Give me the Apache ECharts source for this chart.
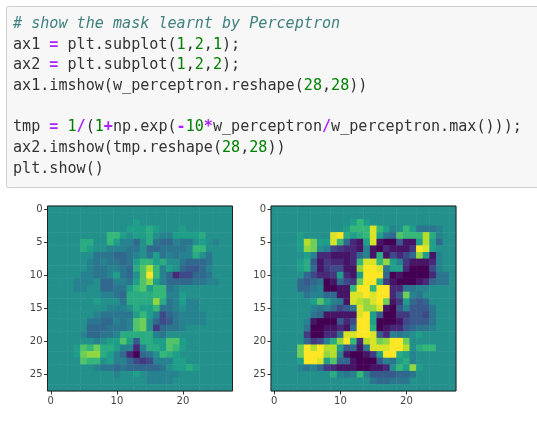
<!DOCTYPE html>
<html><head><meta charset="utf-8">
<style>html,body{margin:0;padding:0;background:#fff}#c{width:537px;height:426px}</style>
<script src="https://cdn.jsdelivr.net/npm/echarts@6/dist/echarts.min.js"></script>
</head><body><div id="c"></div>
<script>
const xTicks=[0,10,20];
const yTicks=[0,5,10,15,20,25];
const codeLines=[
"{c|# show the mask learnt by Perceptron}",
"ax1 {o|=} plt.subplot({n|1},{n|2},{n|1});",
"ax2 {o|=} plt.subplot({n|1},{n|2},{n|2});",
"ax1.imshow(w_perceptron.reshape({n|28},{n|28}))",
"",
"tmp {o|=} {n|1}{o|/}({n|1}{o|+}np.exp({o|-}{n|10}{o|*}w_perceptron{o|/}w_perceptron.max()));",
"ax2.imshow(tmp.reshape({n|28},{n|28}))",
"plt.show()"];
const weights=[
[0,0,0,0,0,0,0,0,0,0,0,0,0,0,0,0,0,0,0,0,0,0,0,0,0,0,0,0],
[0,0,0,0,0,0,0,0,0,0,0,0,0,0,0,0,0,0,0,0,0,0,0,0,0,0,0,0],
[0,0,0,0,0,0,0,0,0,0,0,0,0,1,0,0,0,0,0,0,0,0,0,0,0,0,0,0],
[0,0,0,0,0,0,0,0,0,0,0,0,1,1,1,2,1,0,0,0,1,0,0,0,0,0,0,0],
[0,0,0,0,0,0,0,0,0,3,3,1,0,1,1,2,0,-1,-1,1,1,1,1,2,0,0,0,0],
[0,0,0,0,0,2,2,0,0,3,1,-1,-1,-3,0,2,-2,-3,-3,-1,-2,-2,0,1,0,-1,0,0],
[0,0,0,0,0,2,1,0,0,-1,-1,-1,-2,-2,0,-3,-3,-2,-2,-2,-2,-1,3,3,0,0,0,0],
[0,0,0,0,0,0,0,-2,-2,-2,-3,-3,-2,-1,0,-2,1,-2,-1,-2,-1,-1,2,0,-2,0,0,0],
[0,0,0,0,0,0,-1,-2,-1,-2,-2,-3,-2,1,3,3,1,2,0,0,-2,-3,-3,-3,-2,0,0,0],
[0,0,0,0,0,0,-1,-2,-2,-1,-1,-2,-3,2,4,7,3,-1,1,0,-3,-4,-4,-3,-1,0,0,0],
[0,0,0,0,0,-1,-1,-2,-2,-1,1,-2,-3,0,4,9,3,-1,-3,-7,-5,-5,-3,-3,-2,0,0,0],
[0,0,0,0,-1,-1,-1,0,-3,-3,-1,-1,-2,1,4,6,1,-1,-3,-3,-3,-3,-2,-2,-1,-1,0,0],
[0,0,0,0,-1,-1,0,0,-3,-3,-2,-2,1,3,4,1,3,3,-2,-1,0,0,0,0,0,0,0,0],
[0,0,0,0,0,0,0,0,-1,-1,-2,-3,2,2,2,2,3,3,-1,-1,1,0,0,0,0,0,0,0],
[0,0,0,0,0,0,0,1,0,0,0,-2,2,2,2,2,6,2,-2,-1,1,-1,-1,0,0,0,0,0],
[0,0,0,0,0,0,0,0,0,-1,-1,-1,0,2,1,1,3,-2,-2,-1,0,-1,-1,0,0,0,0,0],
[0,0,0,0,0,0,0,-1,-2,-2,-2,-2,-2,1,3,1,-1,-5,-3,-2,-1,-1,-1,-1,0,0,0,0],
[0,0,0,0,0,0,-2,-2,-3,-3,-1,-2,-1,4,5,0,-3,-5,-4,-2,-1,-1,-1,-1,0,0,0,0],
[0,0,0,0,0,0,-3,-3,-3,-2,-2,-2,-1,4,5,0,-6,-3,-2,-2,-1,0,0,0,0,0,0,0],
[0,0,0,0,0,-1,-3,-3,-2,-2,-1,2,2,2,2,2,-1,-2,0,0,0,0,0,0,0,0,0,0],
[0,0,0,0,0,0,0,-1,0,1,1,4,1,-4,2,2,1,1,4,4,1,0,0,0,0,0,0,0],
[0,0,0,0,1,4,3,5,2,2,1,-1,-1,-7,-1,2,2,1,4,3,1,0,0,0,0,0,0,0],
[0,0,0,0,1,5,6,6,2,1,-1,-3,-7,-9,-3,-2,0,3,2,1,0,0,0,0,0,0,0,0],
[0,0,0,0,0,4,3,3,0,1,-1,-1,-3,-5,-6,-5,-1,-1,-1,1,1,0,0,0,0,0,0,0],
[0,0,0,0,0,0,0,-1,-2,-2,-3,-2,-3,-3,-3,-3,-3,-2,0,1,1,2,1,0,0,0,0,0],
[0,0,0,0,0,0,0,0,0,0,-1,0,0,1,0,-1,-1,-1,-1,-1,0,0,0,0,0,0,0,0],
[0,0,0,0,0,0,0,0,0,0,0,0,0,0,0,-1,-1,-1,-1,0,0,0,0,0,0,0,0,0],
[0,0,0,0,0,0,0,0,0,0,0,0,0,0,0,0,0,0,0,0,0,0,0,0,0,0,0,0]];
const squashed=[
[0,0,0,0,0,0,0,0,0,0,0,0,0,0,0,0,0,0,0,0,0,0,0,0,0,0,0,0],
[0,0,0,0,0,0,0,0,0,0,0,0,0,0,0,0,0,0,0,0,0,0,0,0,0,0,0,0],
[0,0,0,0,0,0,0,0,0,0,0,0,1,3,1,0,0,0,0,0,0,0,0,0,0,0,0,0],
[0,0,0,0,0,0,0,0,0,0,0,1,3,3,3,8,3,1,-1,0,3,1,-2,-2,-2,-1,0,0],
[0,0,0,0,1,0,0,0,0,8,9,2,1,2,3,8,1,-2,-3,4,3,3,3,7,2,-1,0,0],
[0,0,0,0,1,7,5,1,1,8,3,-3,-7,-8,1,8,-8,-9,-9,-4,-8,-8,1,7,1,-3,0,0],
[0,0,0,0,1,6,5,0,-1,-5,-6,-7,-7,-8,-1,-8,-9,-7,-8,-8,-8,-6,9,8,1,0,0,0],
[0,0,0,0,0,1,-1,-7,-7,-8,-8,-8,-7,-3,-1,-8,2,-8,-5,-7,-5,-3,6,1,-8,-1,0,0],
[0,0,0,0,1,2,-4,-8,-6,-7,-7,-8,-7,3,8,8,3,6,1,-1,-6,-8,-8,-8,-7,-1,0,0],
[0,0,0,0,1,2,-3,-8,-6,-5,-5,-8,-8,6,9,9,8,-2,1,1,-7,-9,-9,-9,-5,-1,0,0],
[0,0,0,0,0,-3,-5,-7,-7,-6,1,-7,-8,1,9,9,9,-3,-9,-8,-9,-9,-9,-9,-7,-2,-2,0],
[0,0,0,0,-3,-4,-3,-2,-9,-8,-3,-5,-6,5,9,9,2,-6,-8,-9,-9,-9,-8,-7,-3,-2,-2,0],
[0,0,0,0,-3,-3,-2,-1,-9,-9,-8,-8,3,9,9,3,9,9,-7,-7,-2,-2,-1,-1,0,0,0,0],
[0,0,0,0,0,-2,-1,-1,-3,-3,-8,-8,8,8,9,8,9,9,-7,-4,5,-1,-2,0,0,0,0,0],
[0,0,0,0,0,0,1,4,1,-1,-2,-8,8,7,6,8,9,5,-8,-6,1,-3,-4,-3,0,0,0,0],
[0,0,0,0,0,0,-1,-2,-1,-3,-5,-4,-2,8,6,6,8,-8,-9,-4,-1,-4,-4,-4,-2,0,0,0],
[0,0,0,0,0,0,-2,-3,-8,-8,-8,-8,-8,8,9,1,-4,-9,-9,-6,-6,-4,-4,-5,-2,0,0,0],
[0,0,0,0,0,-1,-8,-9,-9,-9,-4,-7,-5,9,9,1,-9,-9,-9,-8,-5,-4,-4,-4,-2,0,0,0],
[0,0,0,0,0,-2,-9,-9,-8,-8,-7,-8,-3,9,9,2,-9,-8,-7,-7,-4,-3,-2,-2,-1,0,0,0],
[0,0,0,0,0,-6,-9,-9,-7,-7,-3,8,8,9,9,8,-4,-7,-1,-2,-1,0,1,0,0,0,0,0],
[0,0,0,0,0,-3,-6,-5,-1,2,6,9,3,-7,7,8,5,6,9,9,5,0,0,0,0,0,0,0],
[0,0,0,0,5,9,7,9,7,7,1,-4,-3,-8,-2,8,8,8,9,9,7,0,2,3,3,0,0,0],
[0,0,0,0,5,9,9,9,6,7,-1,-8,-9,-9,-8,-6,1,9,9,2,1,-1,0,0,0,0,0,0],
[0,0,0,0,1,9,9,8,1,4,-3,-3,-8,-9,-9,-9,-4,-1,-2,1,2,-1,0,0,0,0,0,0],
[0,0,0,0,-1,-2,-1,-3,-6,-7,-8,-8,-8,-9,-9,-8,-8,-7,0,3,1,6,1,0,0,0,0,0],
[0,0,0,0,0,0,0,0,0,2,-1,-2,-1,3,-1,-4,-4,-4,-4,-3,-3,-2,0,0,0,0,0,0],
[0,0,0,0,0,0,0,0,0,0,0,0,0,0,0,-2,-3,-3,-2,-2,-2,0,0,0,0,0,0,0],
[0,0,0,0,0,0,0,0,0,0,0,0,0,0,0,0,0,0,0,0,0,0,0,0,0,0,0,0]];
const viridis=['#440154','#482878','#3e4989','#31688e','#26828e','#1f9e89','#35b779','#6ece58','#b5de2b','#fde725'];

[weights,squashed].forEach(g=>g.forEach((r,i)=>{if(r.length!==28||g.length!==28)throw new Error('bad row '+i)}));
const cells=[...Array(28).keys()].map(String);
const flat=g=>g.flatMap((r,y)=>r.map((v,x)=>[x,y,v]));
const axisFont={color:'#444',fontSize:10,fontFamily:'DejaVu Sans'};
const xAx=i=>({type:'category',gridIndex:i,data:cells,position:'bottom',
  axisLine:{show:false},splitLine:{show:false},
  axisTick:{show:true,length:3.5,alignWithLabel:true,interval:(n)=>xTicks.includes(n),lineStyle:{color:'#333',width:1}},
  axisLabel:{...axisFont,margin:5,interval:(n)=>xTicks.includes(n)}});
const yAx=i=>({type:'category',gridIndex:i,data:cells,inverse:true,
  axisLine:{show:false},splitLine:{show:false},
  axisTick:{show:true,length:3.5,alignWithLabel:true,interval:(n)=>yTicks.includes(n),lineStyle:{color:'#333',width:1}},
  axisLabel:{...axisFont,margin:5,interval:(n)=>yTicks.includes(n)}});
const gridOf=(left)=>({left,top:206,width:185,height:185,show:true,z:5,backgroundColor:'transparent',borderColor:'#222',borderWidth:1,containLabel:false});
const code=codeLines.map((t,i)=>({type:'text',silent:true,z:10,style:{
  text:t,x:13,y:24+i*20.7,verticalAlign:'middle',fontFamily:'DejaVu Sans Mono',fontSize:15.1,fill:'#333',
  rich:{c:{fill:'#408080',fontStyle:'italic',fontFamily:'DejaVu Sans Mono',fontSize:15.1},
        o:{fill:'#aa22ff',fontWeight:'bold',fontFamily:'DejaVu Sans Mono',fontSize:15.1},
        n:{fill:'#008000',fontFamily:'DejaVu Sans Mono',fontSize:15.1}}}}));
const chart=echarts.init(document.getElementById('c'),null,{renderer:'canvas'});
chart.setOption({animation:false,backgroundColor:'#fff',
  grid:[gridOf(47.5),gridOf(271)],
  xAxis:[xAx(0),xAx(1)],yAxis:[yAx(0),yAx(1)],
  visualMap:{show:false,type:'continuous',min:-9,max:9,seriesIndex:[0,1],inRange:{color:viridis}},
  series:[
   {type:'heatmap',xAxisIndex:0,yAxisIndex:0,data:flat(weights),progressive:0},
   {type:'heatmap',xAxisIndex:1,yAxisIndex:1,data:flat(squashed),progressive:0}],
  graphic:[{type:'rect',silent:true,z:1,shape:{x:6.5,y:6.5,width:545,height:181,r:2},style:{fill:'#f7f7f7',stroke:'#cfcfcf',lineWidth:1}},...code]});
</script></body></html>
